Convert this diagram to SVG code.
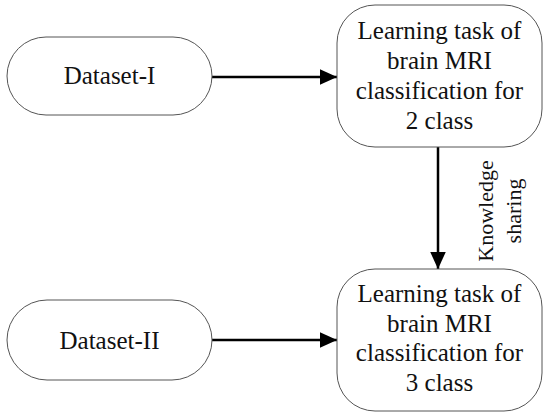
<svg xmlns="http://www.w3.org/2000/svg" width="550" height="419" viewBox="0 0 550 419">
<defs>
<style>
.box{fill:#fff;stroke:#555;stroke-width:1}
.t{font-family:"Liberation Serif","Times New Roman",serif;font-size:25px;fill:#111;text-anchor:middle}
.lbl{font-family:"Liberation Serif","Times New Roman",serif;font-size:22px;fill:#111;text-anchor:middle}
.arr{stroke:#000;stroke-width:2.5;fill:none;marker-end:url(#ah)}
</style>
<marker id="ah" markerWidth="7" markerHeight="6.4" refX="7" refY="3.2" orient="auto" markerUnits="strokeWidth">
<path d="M0,0 L7,3.2 L0,6.4 Z" fill="#000"/>
</marker>
</defs>
<rect width="550" height="419" fill="#fff"/>
<g id="connectors">
<line class="arr" x1="212" y1="77" x2="337" y2="77"/>
<line class="arr" x1="212" y1="340" x2="337" y2="340"/>
<line class="arr" x1="438" y1="147" x2="438" y2="269"/>
<text class="lbl" transform="translate(493,211) rotate(-90)">Knowledge</text>
<text class="lbl" transform="translate(521,211) rotate(-90)">sharing</text>
</g>
<g id="dataset1">
<rect class="box" x="7" y="37" width="205" height="78" rx="39"/>
<text class="t" x="109.5" y="84">Dataset-I</text>
</g>
<g id="dataset2">
<rect class="box" x="7" y="300" width="205" height="80" rx="40"/>
<text class="t" x="109.5" y="349">Dataset-II</text>
</g>
<g id="task2">
<rect class="box" x="337" y="5" width="205" height="142" rx="38"/>
<text class="t" x="439.5" y="39">Learning task of</text>
<text class="t" x="439.5" y="69">brain MRI</text>
<text class="t" x="439.5" y="99">classification for</text>
<text class="t" x="439.5" y="129">2 class</text>
</g>
<g id="task3">
<rect class="box" x="337" y="269" width="205" height="142" rx="38"/>
<text class="t" x="439.5" y="302">Learning task of</text>
<text class="t" x="439.5" y="332">brain MRI</text>
<text class="t" x="439.5" y="361">classification for</text>
<text class="t" x="439.5" y="391">3 class</text>
</g>
</svg>
